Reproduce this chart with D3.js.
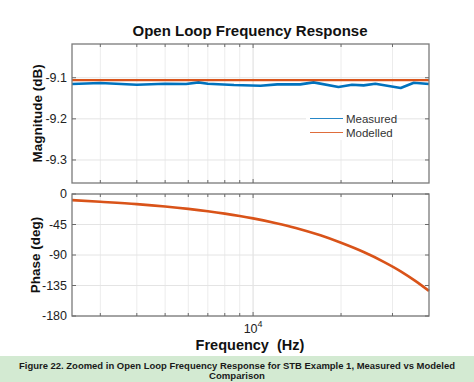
<!DOCTYPE html>
<html><head><meta charset="utf-8">
<script src="https://cdn.jsdelivr.net/npm/d3@7"></script>
<style>
body{margin:0;background:#fff;}
svg{display:block;font-family:"Liberation Sans",Arial,Helvetica,sans-serif;}
</style></head>
<body><svg id="c" width="474" height="382"></svg>
<script>
// ---- data ----
const measFreq = [2400,3000,4000,5000,5900,6500,7000,8600,10600,12100,14500,16100,19600,21800,23900,26200,32000,35500,40000];
const measMag  = [-9.1154,-9.113,-9.117,-9.1146,-9.1154,-9.1113,-9.1146,-9.1178,-9.1194,-9.1162,-9.1162,-9.1113,-9.1227,-9.117,-9.1186,-9.1146,-9.1251,-9.1121,-9.1154];
const modFreq  = [2400,5000,10000,20000,40000];
const modMag   = [-9.1056,-9.1056,-9.1056,-9.1056,-9.1056];
const phaseFreq = [2400,3000,4000,5000,6000,7000,8000,9000,10000,12000,14000,17000,20000,24000,28000,32000,36000,40000];
const phaseDeg  = [-9,-11.5,-15,-18.5,-22,-25.5,-29,-32.5,-36,-43,-50,-61,-72,-86,-100,-114,-128.5,-143];
const magTicks = [-9.3,-9.2,-9.1];
const phaseTicks = [-180,-135,-90,-45,0];
const freqGrid = [3000,4000,5000,6000,7000,8000,9000,10000,20000,30000];
const seriesNames = ["Measured","Modelled"];
const colors = {meas:"#0072BD", mod:"#D95319"};

const svg = d3.select("#c");
const L=72, R=429;
const x = d3.scaleLog().domain([2400,40000]).range([L,R]);
const yM = d3.scaleLinear().domain([-9.356,-9.018]).range([183,44]);
const yP = d3.scaleLinear().domain([-180,0]).range([316,194]);

function panel(y, ticks){
  const [b,t] = y.range();
  const g = svg.append("g");
  g.selectAll(".gx").data(freqGrid).join("line")
    .attr("x1",d=>x(d)).attr("x2",d=>x(d)).attr("y1",t).attr("y2",b)
    .attr("stroke",d=>d===10000?"#dcdcdc":"#ececec").attr("stroke-width",1);
  g.selectAll(".gy").data(ticks).join("line")
    .attr("x1",L).attr("x2",R).attr("y1",d=>y(d)).attr("y2",d=>y(d))
    .attr("stroke","#e4e4e4").attr("stroke-width",1);
  return g;
}
function frame(y, ticks, fmt){
  const [b,t] = y.range();
  const g = svg.append("g");
  g.append("rect").attr("x",L).attr("y",t).attr("width",R-L).attr("height",b-t)
    .attr("fill","none").attr("stroke","#7a7a7a").attr("stroke-width",1.3);
  freqGrid.forEach(f=>{
    const len = f===10000?4:3;
    g.append("line").attr("x1",x(f)).attr("x2",x(f)).attr("y1",b).attr("y2",b-len).attr("stroke","#6a6a6a");
    g.append("line").attr("x1",x(f)).attr("x2",x(f)).attr("y1",t).attr("y2",t+len).attr("stroke","#6a6a6a");
  });
  ticks.forEach(v=>{
    g.append("line").attr("x1",L).attr("x2",L+4).attr("y1",y(v)).attr("y2",y(v)).attr("stroke","#6a6a6a");
    g.append("line").attr("x1",R).attr("x2",R-4).attr("y1",y(v)).attr("y2",y(v)).attr("stroke","#6a6a6a");
  });
  g.selectAll(".tl").data(ticks).join("text")
    .attr("x",L-5).attr("y",d=>y(d)).attr("dy","0.35em").attr("text-anchor","end")
    .attr("font-size",12.5).attr("fill","#222").text(fmt);
}

// magnitude panel
panel(yM, magTicks);
const lineM = d3.line().x(d=>x(d[0])).y(d=>yM(d[1]));
svg.append("path").datum(d3.zip(measFreq,measMag)).attr("d",lineM)
  .attr("fill","none").attr("stroke",colors.meas).attr("stroke-width",2.6).attr("stroke-linejoin","round");
svg.append("path").datum(d3.zip(modFreq,modMag)).attr("d",lineM)
  .attr("fill","none").attr("stroke",colors.mod).attr("stroke-width",2.2);
frame(yM, magTicks, d=>d.toFixed(1));

// legend
const lg = svg.append("g");
lg.append("rect").attr("x",306).attr("y",110).attr("width",90).attr("height",30).attr("fill","#fff");
seriesNames.forEach((n,i)=>{
  const yy = 118.5 + i*14;
  lg.append("line").attr("x1",310).attr("x2",343).attr("y1",yy).attr("y2",yy)
    .attr("stroke",i===0?colors.meas:colors.mod).attr("stroke-width",1).attr("stroke-opacity",0.85);
  lg.append("text").attr("x",346).attr("y",yy).attr("dy","0.35em").attr("font-size",11.5).attr("fill","#333").text(n);
});

// phase panel
panel(yP, phaseTicks);
const lineP = d3.line().curve(d3.curveMonotoneX).x(d=>x(d[0])).y(d=>yP(d[1]));
svg.append("path").datum(d3.zip(phaseFreq,phaseDeg)).attr("d",lineP)
  .attr("fill","none").attr("stroke",colors.mod).attr("stroke-width",2.6);
frame(yP, phaseTicks, d=>String(d));

// title & labels
svg.append("text").attr("x",250).attr("y",36).attr("text-anchor","middle")
  .attr("font-size",15).attr("font-weight","bold").attr("fill","#111").text("Open Loop Frequency Response");
svg.append("text").attr("transform","translate(42,113.5) rotate(-90)").attr("text-anchor","middle")
  .attr("font-size",13.5).attr("font-weight","bold").attr("fill","#111").text("Magnitude (dB)");
svg.append("text").attr("transform","translate(40,255) rotate(-90)").attr("text-anchor","middle")
  .attr("font-size",13.5).attr("font-weight","bold").attr("fill","#111").text("Phase (deg)");
const xt = svg.append("text").attr("x",x(10000)).attr("y",333).attr("text-anchor","middle")
  .attr("font-size",12.5).attr("fill","#222");
xt.append("tspan").text("10");
xt.append("tspan").attr("dy",-6).attr("font-size",9).text("4");
svg.append("text").attr("x",250).attr("y",350).attr("text-anchor","middle")
  .attr("font-size",14.5).attr("font-weight","bold").attr("fill","#111").attr("xml:space","preserve").text("Frequency  (Hz)");

// caption band
svg.append("rect").attr("x",0).attr("y",356).attr("width",474).attr("height",26).attr("fill","#d3ead2");
svg.append("text").attr("x",237).attr("y",369).attr("text-anchor","middle")
  .attr("font-size",9.6).attr("font-weight","bold").attr("fill","#1a1a1a")
  .attr("textLength",436).attr("lengthAdjust","spacingAndGlyphs")
  .text("Figure 22. Zoomed in Open Loop Frequency Response for STB Example 1, Measured vs Modeled");
svg.append("text").attr("x",237).attr("y",379).attr("text-anchor","middle")
  .attr("font-size",9.6).attr("font-weight","bold").attr("fill","#1a1a1a").text("Comparison");
</script></body></html>
